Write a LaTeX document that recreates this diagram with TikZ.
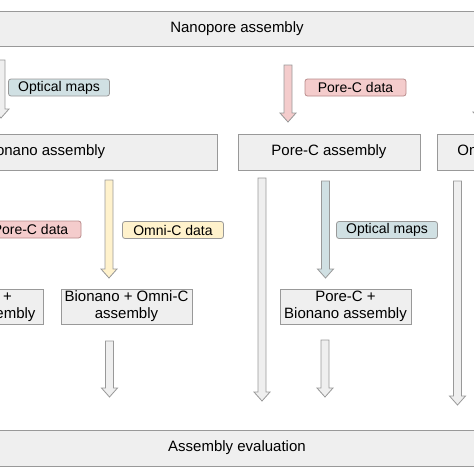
\documentclass[tikz,border=0pt]{standalone}
\usepackage{fontspec}
\setmainfont{Liberation Sans}
\usetikzlibrary{calc}
\definecolor{BoxClr}{HTML}{EFEFEF}
\definecolor{EdgeClr}{HTML}{999999}
\definecolor{MapClr}{HTML}{D0E0E3}
\definecolor{PoreClr}{HTML}{F4CCCC}
\definecolor{PoreEdgeClr}{HTML}{B88A8A}
\definecolor{OmniClr}{HTML}{FFF2CC}

% block arrow from #2 down to #3 (same x)
\newcommand{\fatarrow}[3][BoxClr]{%
  \draw[fatarr,fill=#1] ($(#2)+(-4,0)$) -- ($(#3)+(-4,-9)$) -- ($(#3)+(-8,-9)$)
    -- (#3) -- ($(#3)+(8,-9)$) -- ($(#3)+(4,-9)$) -- ($(#2)+(4,0)$) -- cycle;}

\begin{document}
\begin{tikzpicture}[x=1pt,y=-1pt,
  stagebox/.style={draw=EdgeClr,fill=BoxClr,line width=1pt,inner sep=0pt,
    minimum height=35pt,align=center,font=\fontsize{15}{17}\selectfont},
  databox/.style={draw=EdgeClr,line width=0.8pt,rounded corners=2.5pt,inner sep=0pt,
    minimum height=17pt,minimum width=101pt,font=\fontsize{14}{16}\selectfont},
  fatarr/.style={draw=EdgeClr,line width=0.8pt,line join=miter}]
\useasboundingbox (0,0) rectangle (474,474);

% stages
\node[stagebox,minimum width=490pt] (nano) at (237,28.5) {Nanopore assembly};
\node[stagebox,minimum width=346pt,minimum height=36pt] (bion) at (44,152) {Bionano assembly};
\node[stagebox,minimum width=182pt,minimum height=36pt] (porec) at (329,152) {Pore-C assembly};
\node[stagebox,minimum width=160pt,minimum height=36pt] (omnic) at (517,152) {Omni-C assembly};

\node[stagebox,minimum width=130pt] (bpc) at (-22,306.5) {Bionano +\\Pore-C assembly};
\node[stagebox,minimum width=131pt] (bom) at (126.5,306.5) {Bionano + Omni-C\\assembly};
\node[stagebox,minimum width=131pt] (pcb) at (345.5,306.5) {Pore-C +\\Bionano assembly};

\node[stagebox,minimum width=490pt,minimum height=36pt] (eval) at (237,448) {Assembly evaluation};

% data
\node[databox,fill=MapClr] (opt1) at (59,87.5) {Optical maps};
\node[databox,fill=PoreClr,draw=PoreEdgeClr] (pcd1) at (355.5,87.5) {Pore-C data};
\node[databox,fill=PoreClr,draw=PoreEdgeClr] (pcd2) at (30.5,229.5) {Pore-C data};
\node[databox,fill=OmniClr] (ocd) at (173,230) {Omni-C data};
\node[databox,fill=MapClr] (opt2) at (387,230) {Optical maps};

% arrow ends
\coordinate (bn-s) at (1,60);      \coordinate (bn-e) at (1,118);
\coordinate (pc-s) at (288,65);    \coordinate (pc-e) at (288,122);
\coordinate (oc-s) at (481,66);    \coordinate (oc-e) at (481,121);
\coordinate (om-s) at (109,180);   \coordinate (om-e) at (109,278);
\coordinate (pe-s) at (262,178);   \coordinate (pe-e) at (262,401);
\coordinate (om2-s) at (325.5,181); \coordinate (om2-e) at (325.5,278);
\coordinate (oe-s) at (457.5,181); \coordinate (oe-e) at (457.5,405);
\coordinate (be-s) at (109.5,341); \coordinate (be-e) at (109.5,397);
\coordinate (ce-s) at (325,340);   \coordinate (ce-e) at (325,397);

\fatarrow{bn-s}{bn-e}
\fatarrow[PoreClr]{pc-s}{pc-e}
\fatarrow{oc-s}{oc-e}
\fatarrow[OmniClr]{om-s}{om-e}
\fatarrow{pe-s}{pe-e}
\fatarrow[MapClr]{om2-s}{om2-e}
\fatarrow{oe-s}{oe-e}
\fatarrow{be-s}{be-e}
\fatarrow{ce-s}{ce-e}

\end{tikzpicture}
\end{document}
